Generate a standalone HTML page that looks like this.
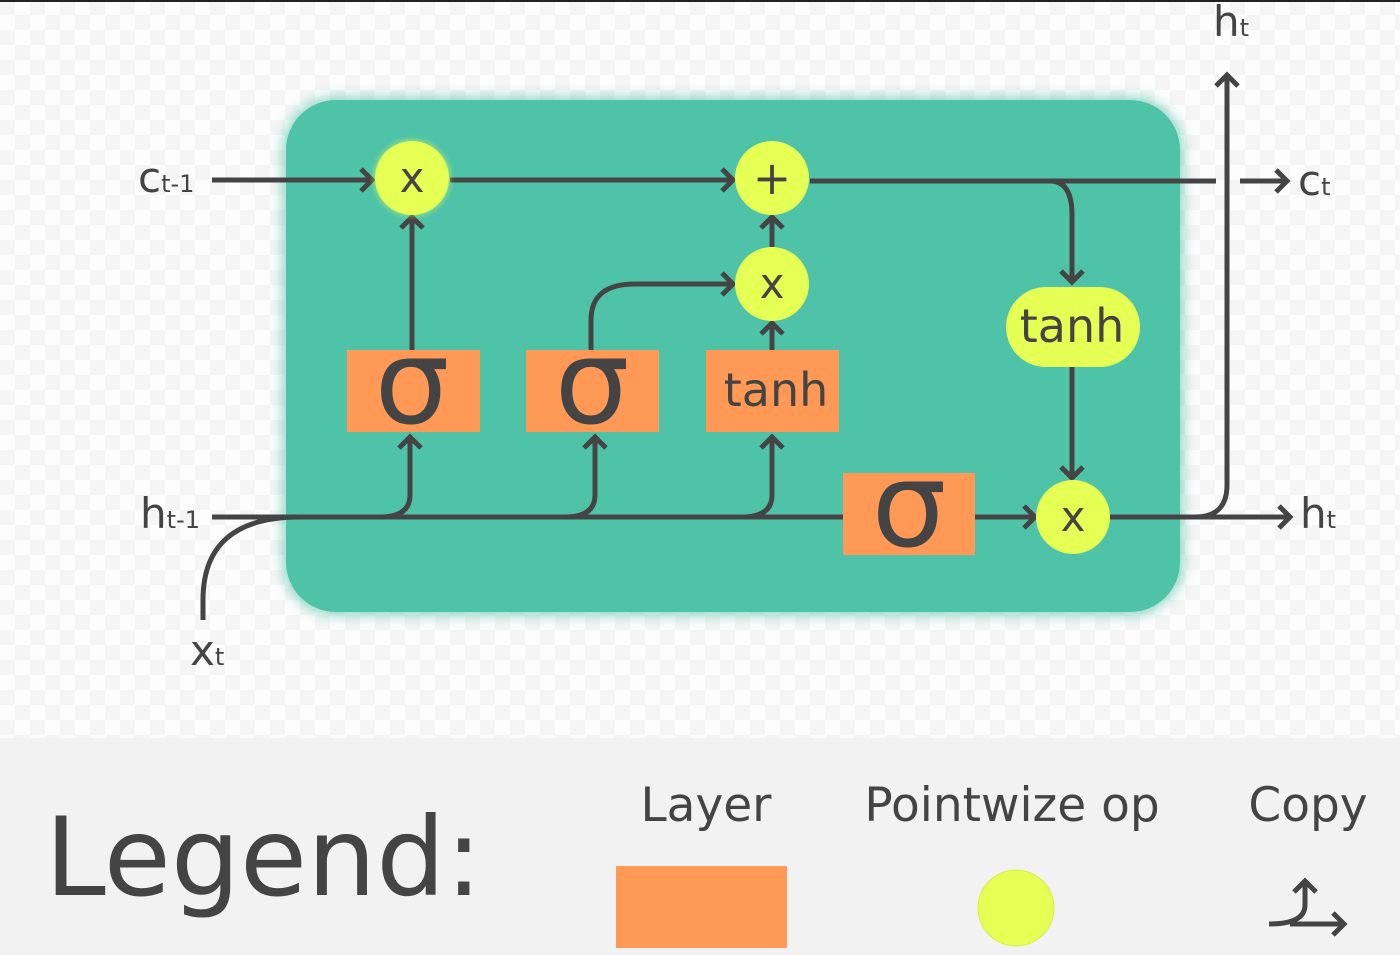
<!DOCTYPE html>
<html><head><meta charset="utf-8"><style>
html,body{margin:0;padding:0;width:1400px;height:955px;overflow:hidden;background:#fbfbfb}
svg{display:block}
text{font-family:"DejaVu Sans","Liberation Sans",sans-serif;fill:#444}
</style></head><body>
<svg width="1400" height="955" viewBox="0 0 1400 955" xmlns="http://www.w3.org/2000/svg">
<defs>
<pattern id="chk" width="30" height="30" patternUnits="userSpaceOnUse">
<rect width="30" height="30" fill="#fdfdfd"/><rect width="15" height="15" fill="#f5f5f5"/><rect x="15" y="15" width="15" height="15" fill="#f5f5f5"/>
</pattern>
<filter id="glow" x="-10%" y="-10%" width="120%" height="120%"><feGaussianBlur stdDeviation="6"/></filter>
<filter id="sg" x="-20%" y="-20%" width="140%" height="140%"><feGaussianBlur stdDeviation="2"/></filter>
<marker id="a" markerUnits="userSpaceOnUse" markerWidth="30" markerHeight="30" refX="0" refY="0" viewBox="-15 -15 30 30" orient="auto" overflow="visible">
<path d="M-11,-11 L0,0 L-11,11" fill="none" stroke="#444" stroke-width="5"/>
</marker>
</defs>
<rect width="1400" height="738" fill="url(#chk)"/>
<rect x="0" y="0" width="1400" height="2" fill="#222"/>
<rect x="0" y="738" width="1400" height="217" fill="#f2f2f2"/>

<rect x="282" y="96" width="902" height="520" rx="55" fill="#4fc3a8" opacity="0.6" filter="url(#glow)"/>
<rect x="286" y="100" width="894" height="512" rx="50" fill="#4fc3a8"/>

<g fill="none" stroke="#444" stroke-width="5">
<path d="M212,180 H372" marker-end="url(#a)"/>
<path d="M450,180 H733" marker-end="url(#a)"/>
<path d="M810,181 H1216"/>
<path d="M1240,181 H1287" marker-end="url(#a)"/>
<path d="M1050,181 Q1072,181 1072,215 V282" marker-end="url(#a)"/>
<path d="M1072,367 V478" marker-end="url(#a)"/>
<path d="M212,517 H843"/>
<path d="M203,620 V600 Q203,517 300,517"/>
<path d="M380,517 Q410,517 410,495 V437" marker-end="url(#a)"/>
<path d="M565,517 Q595,517 595,495 V437" marker-end="url(#a)"/>
<path d="M742,517 Q772,517 772,495 V437" marker-end="url(#a)"/>
<path d="M412,350 V217" marker-end="url(#a)"/>
<path d="M591,350 V320 Q591,284 635,284 H733" marker-end="url(#a)"/>
<path d="M772,350 V323" marker-end="url(#a)"/>
<path d="M772,247 V217" marker-end="url(#a)"/>
<path d="M975,517 H1035" marker-end="url(#a)"/>
<path d="M1110,517 H1290" marker-end="url(#a)"/>
<path d="M1195,517 Q1227,517 1227,485 V75" marker-end="url(#a)"/>
</g>

<g fill="#ff9955">
<rect x="347" y="350" width="133" height="82"/>
<rect x="526" y="350" width="133" height="82"/>
<rect x="706" y="350" width="133" height="82"/>
<rect x="843" y="473" width="132" height="82"/>
</g>
<g fill="#e5ff55">
<circle cx="412" cy="178" r="39" opacity="0.4" filter="url(#sg)"/>
<circle cx="412" cy="178" r="37"/>
<circle cx="772" cy="178" r="37"/>
<circle cx="772" cy="284" r="37"/>
<circle cx="1073" cy="517" r="37"/>
<rect x="1006" y="287" width="134" height="80" rx="40"/>
</g>

<g text-anchor="middle">
<text x="412" y="192" font-size="42">x</text>
<text x="772" y="194" font-size="46">+</text>
<text x="772" y="298" font-size="42">x</text>
<text x="1073" y="531" font-size="42">x</text>
<text x="1072" y="342" font-size="46">tanh</text>
<text x="776" y="406" font-size="46">tanh</text>
<text x="412" y="423" font-size="118">σ</text>
<text x="592" y="423" font-size="118">σ</text>
<text x="909" y="546" font-size="118">σ</text>
</g>

<text x="138" y="192" font-size="42">c<tspan font-size="24">t-1</tspan></text>
<text x="140" y="528" font-size="42">h<tspan font-size="24">t-1</tspan></text>
<text x="190" y="665" font-size="42">x<tspan font-size="24">t</tspan></text>
<text x="1298" y="195" font-size="42">c<tspan font-size="24">t</tspan></text>
<text x="1300" y="528" font-size="42">h<tspan font-size="24">t</tspan></text>
<text x="1213" y="36" font-size="42">h<tspan font-size="24">t</tspan></text>

<text x="45" y="895" font-size="109">Legend:</text>
<g text-anchor="middle" font-size="47">
<text x="706" y="821">Layer</text>
<text x="1012" y="821">Pointwize op</text>
<text x="1308" y="821">Copy</text>
</g>
<rect x="616" y="866" width="171" height="82" fill="#ff9955"/>
<circle cx="1016" cy="908" r="38" fill="#e5ff55" stroke="#d4ee40" stroke-width="1"/>
<g fill="none" stroke="#444" stroke-width="5">
<path d="M1269,924 Q1305,924 1305,905 V881" marker-end="url(#a)"/>
<path d="M1290,924 H1344" marker-end="url(#a)"/>
</g>
</svg>
</body></html>
